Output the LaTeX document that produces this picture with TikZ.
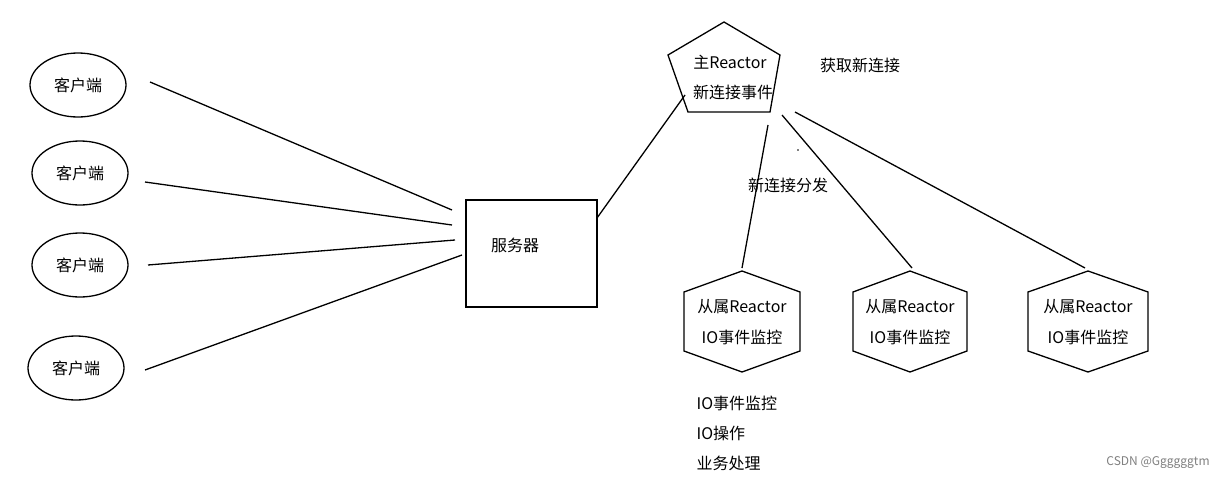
\documentclass[tikz,border=0pt]{standalone}
\usepackage{fontspec}
\setmainfont{Noto Sans CJK SC}
\usetikzlibrary{shapes.geometric}
\begin{document}
\begin{tikzpicture}[x=1pt,y=-1pt,line width=1.3pt,
  lbl/.style={font=\fontsize{16}{18}\selectfont,inner sep=0pt},
  cli/.style={draw,ellipse,minimum width=96pt,minimum height=64pt,inner sep=0pt,font=\fontsize{16}{18}\selectfont}]
\useasboundingbox[fill=white] (0,0) rectangle (1229,479);
\node[cli] (c1) at (78,85) {客户端};
\node[cli] (c2) at (80,173) {客户端};
\node[cli] (c3) at (80,265) {客户端};
\node[cli] (c4) at (76,368) {客户端};
\draw (466,200) rectangle (597,307);
\node[lbl] (srv) at (515,245) {服务器};
\coordinate (s1) at (452,210); \coordinate (s2) at (452,225);
\coordinate (s3) at (455,240); \coordinate (s4) at (462,255);
\coordinate (a1) at (150,82); \coordinate (a2) at (145,182);
\coordinate (a3) at (148,265); \coordinate (a4) at (145,370);
\draw (a1)--(s1); \draw (a2)--(s2); \draw (a3)--(s3); \draw (a4)--(s4);
\draw (724,22)--(780,55)--(770,112)--(688,112)--(668,55)--cycle;
\node[lbl] (m1) at (730,62) {主Reactor};
\node[lbl] (m2) at (733,92) {新连接事件};
\coordinate (sv) at (597,218); \coordinate (pm) at (685,95);
\draw (sv)--(pm);
\node[lbl] at (860,65) {获取新连接};
\node[lbl] at (788,185) {新连接分发};
\fill (798,150) circle (0.8pt);
\foreach \cx/\w/\n in {742/58/h1,910/57/h2,1088/60/h3}{
  \draw (\cx,271)--(\cx+\w,292)--(\cx+\w,351)--(\cx,372)--(\cx-\w,351)--(\cx-\w,292)--cycle;
  \node[lbl] at (\cx,307) {从属Reactor};
  \node[lbl] at (\cx,337) {IO事件监控};
}
\draw (768,125)--(742,268);
\draw (782,115)--(912,268);
\draw (795,112)--(1085,268);
\node[lbl,anchor=west] at (696,403) {IO事件监控};
\node[lbl,anchor=west] at (696,433) {IO操作};
\node[lbl,anchor=west] at (696,463) {业务处理};
\node[lbl,text=gray,font=\fontsize{12}{14}\selectfont] at (1158,463) {CSDN @Ggggggtm};
\end{tikzpicture}
\end{document}
